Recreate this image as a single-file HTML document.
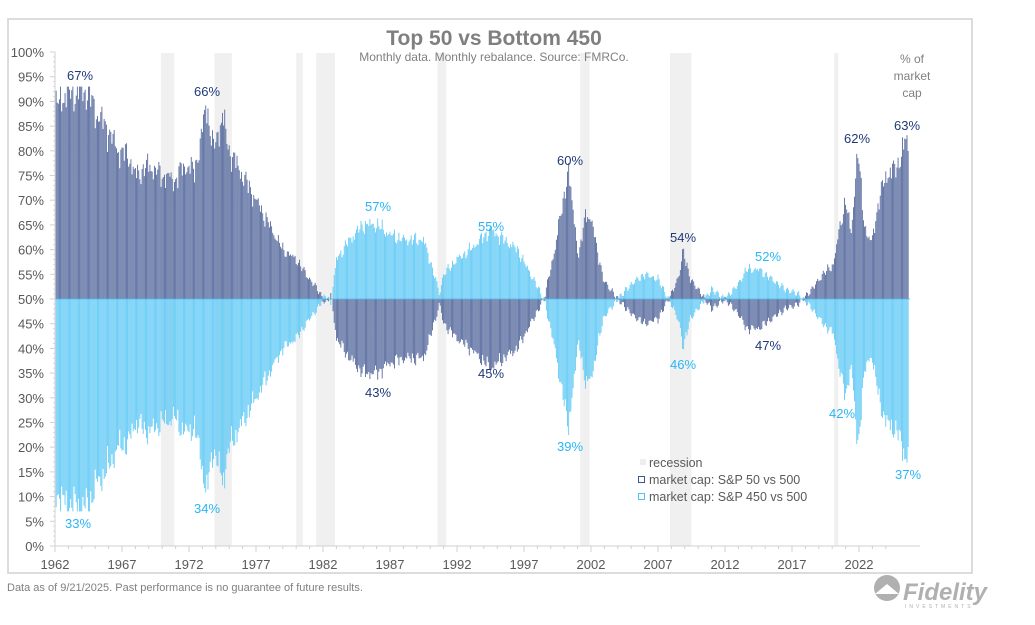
<!DOCTYPE html>
<html><head><meta charset="utf-8"><style>
body{margin:0;background:#fff;width:1035px;height:620px;overflow:hidden;font-family:"Liberation Sans",sans-serif}
</style></head><body>
<svg id="s" width="1035" height="620" xmlns="http://www.w3.org/2000/svg" font-family="Liberation Sans, sans-serif">
<rect x="8" y="19" width="964" height="554" fill="#fff" stroke="#d0d0d0" stroke-width="1.5"/>
<g id="rec" fill="#f0f0f0"></g>
<g id="bars"></g>
<g id="axes"></g>
<text x="494" y="45" text-anchor="middle" font-size="21" font-weight="bold" fill="#7f7f7f">Top 50 vs Bottom 450</text>
<text x="494" y="61" text-anchor="middle" font-size="12" fill="#7f7f7f">Monthly data.  Monthly rebalance. Source: FMRCo.</text>
<text x="912" y="63" text-anchor="middle" font-size="12" fill="#7f7f7f">% of</text>
<text x="912" y="80" text-anchor="middle" font-size="12" fill="#7f7f7f">market</text>
<text x="912" y="97" text-anchor="middle" font-size="12" fill="#7f7f7f">cap</text>
<g font-size="13" text-anchor="middle">
<g fill="#1f3a7a">
<text x="80" y="80">67%</text><text x="207" y="96">66%</text><text x="378" y="397">43%</text><text x="491" y="378">45%</text>
<text x="570" y="165">60%</text><text x="683" y="242">54%</text><text x="768" y="350">47%</text><text x="857" y="143">62%</text><text x="907" y="130">63%</text>
</g>
<g fill="#29b6f6">
<text x="78" y="528">33%</text><text x="207" y="513">34%</text><text x="378" y="211">57%</text><text x="491" y="231">55%</text>
<text x="570" y="451">39%</text><text x="683" y="369">46%</text><text x="768" y="261">52%</text><text x="842" y="418">42%</text><text x="908" y="479">37%</text>
</g></g>
<g font-size="12.5" fill="#595959">
<rect x="640" y="459" width="6" height="6" fill="#eeeeee"/>
<text x="649" y="467">recession</text>
<rect x="638.5" y="476.5" width="6" height="6" fill="none" stroke="#3d5690"/>
<text x="649" y="484">market cap: S&amp;P 50 vs 500</text>
<rect x="638.5" y="493.5" width="6" height="6" fill="none" stroke="#4fc3f7"/>
<text x="649" y="501">market cap: S&amp;P 450 vs 500</text>
</g>
<text x="7" y="591" font-size="11" fill="#7f7f7f">Data as of 9/21/2025. Past performance is no guarantee of future results.</text>
<g transform="translate(873,576)">
<circle cx="14" cy="12" r="13" fill="#b0b0b0"/>
<path d="M2 18 L14 8 L26 18 Z" fill="#fff"/>
<text x="30" y="24" font-size="24" font-weight="bold" font-style="italic" fill="#b0b0b0">Fidelity</text>
<text x="32" y="32" font-size="5" letter-spacing="3" fill="#b0b0b0">INVESTMENTS</text>
</g>
</svg>
<script>
const NS="http://www.w3.org/2000/svg";
function el(t,a,p){const e=document.createElementNS(NS,t);for(const k in a)e.setAttribute(k,a[k]);p.appendChild(e);return e;}
const X=y=>55+(y-1962)*13.4, Y=v=>546-v*4.94;
const rec=document.getElementById('rec');
[[1969.9,1970.9],[1973.9,1975.2],[1980.0,1980.5],[1981.5,1982.9],[1990.55,1991.2],[2001.2,2001.9],[2007.9,2009.5],[2020.15,2020.45]].forEach(r=>el('rect',{x:X(r[0]),y:53,width:X(r[1])-X(r[0]),height:493},rec));
const ax=document.getElementById('axes');
el('line',{x1:55,y1:52,x2:55,y2:546,stroke:'#d0d0d0'},ax);
el('line',{x1:55,y1:546,x2:920,y2:546,stroke:'#d0d0d0'},ax);
for(let v=0;v<=100;v+=5){const y=Y(v);el('line',{x1:50,y1:y,x2:55,y2:y,stroke:'#d0d0d0'},ax);
 const t=el('text',{x:44,y:y+5,'text-anchor':'end','font-size':13,fill:'#595959'},ax);t.textContent=v+'%';}
for(let v=0;v<100;v+=1){el('line',{x1:53,y1:Y(v),x2:55,y2:Y(v),stroke:'#d8d8d8'},ax);}
for(let yr=1962;yr<=2024;yr++){const x=X(yr);const big=(yr-1962)%5==0;el('line',{x1:x,y1:546,x2:x,y2:big?552:549,stroke:'#d0d0d0'},ax);
 if(big){const t=el('text',{x:x,y:569,'text-anchor':'middle','font-size':13,fill:'#595959'},ax);t.textContent=yr;}}
const K=[[1962,88],[1962.5,91],[1963.5,92],[1964.5,92],[1965,88],[1966,84],[1966.7,80],[1967.5,79],[1968,75],[1969,77],[1970,75],[1971,74],[1971.6,77],[1972.4,76],[1972.9,82],[1973.3,90],[1973.8,80],[1974.5,87],[1975,80],[1976,75],[1977,70],[1978,65],[1979,60],[1980,58],[1981,54],[1981.6,52],[1982.2,49],[1982.6,51],[1983,42],[1984,38],[1985,35],[1986,35],[1987,37],[1988,38],[1989.5,38],[1990.3,45],[1990.7,49],[1991,45],[1992,42],[1993,40],[1994.5,36],[1995.5,38],[1996.5,40],[1997.5,45],[1998.5,50],[1999.3,60],[2000.3,76],[2000.8,65],[2001.1,58],[2001.6,68],[2002.2,64],[2002.9,54],[2004,50],[2005,47],[2006,45],[2007,46],[2008,51],[2008.6,55],[2008.9,60],[2009.4,54],[2010,52],[2011,48],[2012,50],[2013,47],[2013.6,44],[2014.5,44],[2015.5,46],[2016.5,48],[2017.5,49],[2018.5,52],[2019.3,55],[2020.1,57],[2020.6,65],[2021,70],[2021.4,63],[2021.9,80],[2022.4,65],[2022.9,61],[2023.5,70],[2024,75],[2024.6,76],[2025,78],[2025.4,81],[2025.7,83]];
function val(t){for(let i=1;i<K.length;i++)if(t<=K[i][0]){const a=K[i-1],b=K[i];return a[1]+(b[1]-a[1])*(t-a[0])/(b[0]-a[0]);}return K[K.length-1][1];}
const bars=document.getElementById('bars');let dk='',lt='';
for(let m=0;m<=764;m++){const t=1962+m/12;let v=val(t);const d0=v-50;
 v=50+d0*(1+0.05*Math.sin(m*1.7)+0.04*Math.sin(m*0.63)+0.03*Math.sin(m*2.9))+0.6*Math.sin(m*1.3);
 v=Math.min(93,Math.max(7,v));
 const x=X(t);const top=Y(v),bot=Y(100-v),b=Y(50);
 dk+=`M${x.toFixed(2)} ${b}V${top.toFixed(1)}`;lt+=`M${x.toFixed(2)} ${b}V${bot.toFixed(1)}`;}
el('path',{d:lt,stroke:'#5cc8f5','stroke-width':0.85,fill:'none'},bars);
el('path',{d:dk,stroke:'#4f6399','stroke-width':0.85,fill:'none'},bars);
el('line',{x1:55,y1:Y(50),x2:910,y2:Y(50),stroke:'#4fb8e8','stroke-width':0.8},bars);
</script>
</body></html>
